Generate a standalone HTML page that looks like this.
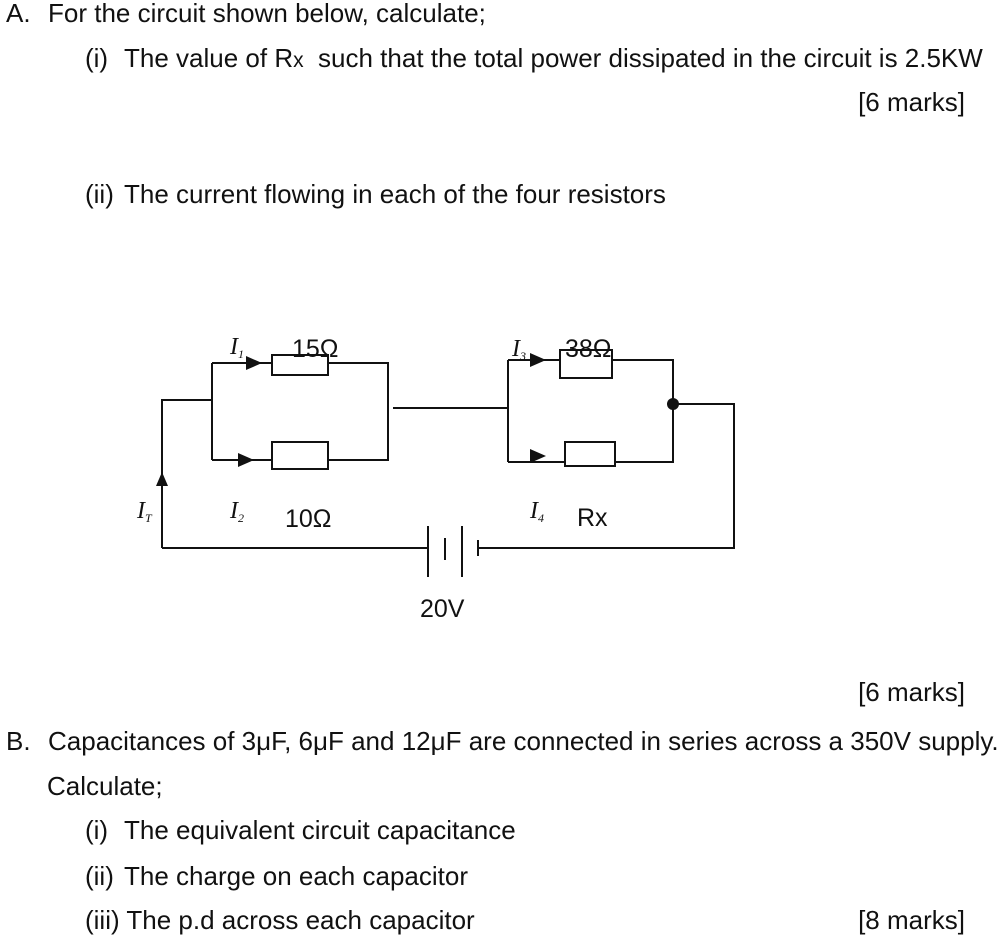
<!DOCTYPE html>
<html><head><meta charset="utf-8"><style>
body{margin:0;background:#fff;width:1002px;height:943px;overflow:hidden;position:relative;font-family:"Liberation Sans",sans-serif;color:#111}
.t{position:absolute;font-size:26px;white-space:nowrap;line-height:1}
.r{position:absolute;font-size:26px;white-space:nowrap;line-height:1;right:37px}
</style></head><body>
<div class="t" style="left:6px;top:0px">A.</div><div class="t" style="left:48px;top:0px">For the circuit shown below, calculate;</div>
<div class="t" style="left:85px;top:45px">(i)</div><div class="t" style="left:124px;top:45px">The value of R<span style="font-size:21px">x</span>&nbsp; such that the total power dissipated in the circuit is 2.5KW</div>
<div class="r" style="top:89px">[6 marks]</div>
<div class="t" style="left:85px;top:181px">(ii)</div><div class="t" style="left:124px;top:181px">The current flowing in each of the four resistors</div>
<div class="r" style="top:679px">[6 marks]</div>
<div class="t" style="left:6px;top:728px">B.</div><div class="t" style="left:48px;top:728px">Capacitances of 3μF, 6μF and 12μF are connected in series across a 350V supply.</div>
<div class="t" style="left:47px;top:773px">Calculate;</div>
<div class="t" style="left:85px;top:817px">(i)</div><div class="t" style="left:124px;top:817px">The equivalent circuit capacitance</div>
<div class="t" style="left:85px;top:863px">(ii)</div><div class="t" style="left:124px;top:863px">The charge on each capacitor</div>
<div class="t" style="left:85px;top:907px">(iii) The p.d across each capacitor</div>
<div class="r" style="top:907px">[8 marks]</div>
<svg width="1002" height="943" style="position:absolute;left:0;top:0" fill="none" stroke="#111" stroke-width="2">
<path d="M162 548V400H212M212 363V460M212 363H272M328 363H388V460H328M272 460H212M393 408H508M508 360V462M508 360H560M612 360H673V462H615M565 462H508M673 404H734V548H478M162 548H428"/>
<rect x="272" y="355" width="56" height="20"/>
<rect x="272" y="442" width="56" height="27"/>
<rect x="560" y="350" width="52" height="28"/>
<rect x="565" y="442" width="50" height="24"/>
<path d="M428 526V577M445 538V560M462 526V577M478 540V556"/>
<g fill="#111" stroke="none">
<path d="M262 363L246 356V370Z"/><path d="M254 460L238 453V467Z"/>
<path d="M546 360L530 353V367Z"/><path d="M546 456L530 449V463Z"/>
<path d="M162 472L156 486H168Z"/>
<circle cx="673" cy="404" r="6"/>
</g>
<g fill="#111" stroke="none" font-family="Liberation Serif,serif" font-style="italic" font-size="24">
<text x="230" y="354">I<tspan font-size="12" dy="4">1</tspan></text>
<text x="230" y="518">I<tspan font-size="12" dy="4">2</tspan></text>
<text x="137" y="518">I<tspan font-size="12" dy="4">T</tspan></text>
<text x="512" y="356">I<tspan font-size="12" dy="4">3</tspan></text>
<text x="530" y="518">I<tspan font-size="12" dy="4">4</tspan></text>
</g>
<g fill="#111" stroke="none" font-family="Liberation Sans,sans-serif" font-size="25">
<text x="292" y="357">15Ω</text>
<text x="285" y="527">10Ω</text>
<text x="565" y="357">38Ω</text>
<text x="577" y="526">Rx</text>
<text x="420" y="617">20V</text>
</g>
</svg>
</body></html>
